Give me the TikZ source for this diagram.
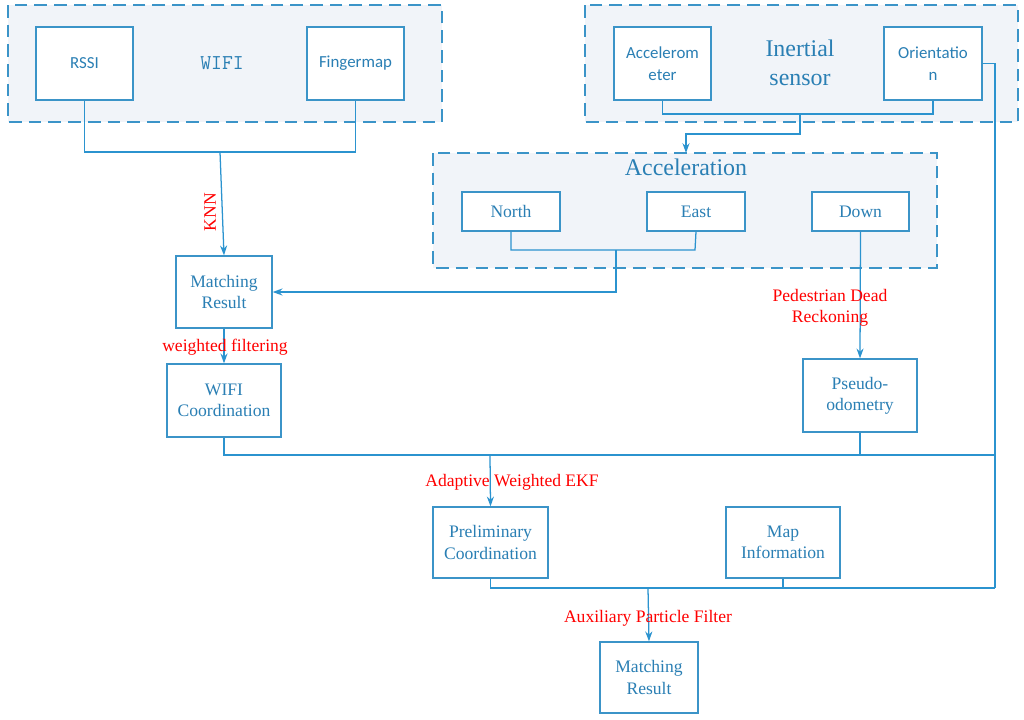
\documentclass[tikz,border=0pt]{standalone}
\usepackage{fontspec}
\setmainfont{Liberation Serif}
\newfontfamily\calib{Carlito}
\usetikzlibrary{arrows.meta}
\definecolor{lineblue}{HTML}{2B93CF}
\definecolor{boxblue}{HTML}{3B94C8}
\definecolor{txtblue}{HTML}{2A7FB4}
\definecolor{groupfill}{HTML}{F1F4F9}
\begin{document}
\begin{tikzpicture}[x=0.025cm, y=-0.025cm, line width=0.9pt,
    box/.style={draw=boxblue, fill=white, text=txtblue, align=center, inner sep=0pt, font=\fontsize{12.5}{15}\selectfont},
    sbox/.style={box, font=\calib\fontsize{12}{16}\selectfont, minimum width=2.425cm, minimum height=1.825cm},
    group/.style={draw=boxblue, dashed, dash pattern=on 9pt off 5pt, fill=groupfill},
    conn/.style={draw=lineblue},
    arr/.style={draw=lineblue, -{Stealth[length=7pt, width=5pt]}},
    note/.style={text=red, font=\fontsize{12.5}{15}\selectfont, inner sep=1pt},
  ]
    \useasboundingbox (0,0) rectangle (1024,719);

    % groups
    \draw[group] (8,5) rectangle (442,122);
    \draw[group] (585,5) rectangle (1018,122);
    \draw[group] (433,153) rectangle (937,268);

    % wifi
    \node[sbox] (rssi) at (84.5,63.5) {RSSI};
    \node[text=txtblue, font=\ttfamily\fontsize{15}{17}\selectfont] (wifi) at (222,63) {WIFI};
    \node[sbox] (finger) at (355.5,63.5) {Fingermap};

    % inertial
    \node[sbox] (acc) at (662.5,63.5) {Accelerom\\eter};
    \node[text=txtblue, align=center, font=\fontsize{17}{21}\selectfont] (inert) at (800,63) {Inertial\\sensor};
    \node[sbox, minimum width=2.45cm] (orient) at (933,63.5) {Orientatio\\n};

    % acceleration
    \node[text=txtblue, font=\fontsize{17}{20}\selectfont] (accel) at (686,167) {Acceleration};
    \node[box, minimum width=2.45cm, minimum height=0.975cm] (north) at (511,211.5) {North};
    \node[box, minimum width=2.45cm, minimum height=0.975cm] (east) at (696,211.5) {East};
    \node[box, minimum width=2.425cm, minimum height=0.975cm] (down) at (860.5,211.5) {Down};

    % processing
    \node[box, minimum width=2.4cm, minimum height=1.8cm] (match) at (224,292) {Matching\\Result};
    \node[box, minimum width=2.85cm, minimum height=1.825cm] (wcoord) at (224,400.5) {WIFI\\Coordination};
    \node[box, minimum width=2.85cm, minimum height=1.825cm] (pseudo) at (860,395.5) {Pseudo-\\odometry};
    \node[box, minimum width=2.875cm, minimum height=1.775cm] (prelim) at (490.5,542.5) {Preliminary\\Coordination};
    \node[box, minimum width=2.85cm, minimum height=1.775cm] (map) at (783,542.5) {Map\\Information};
    \node[box, minimum width=2.45cm, minimum height=1.775cm] (final) at (649,677.5) {Matching\\Result};

    % wifi to matching
    \coordinate (wj) at (220,152);
    \draw[conn] (rssi.south) |- (wj) -| (finger.south);
    \draw[arr] (wj) -- (match.north);
    \node[note, rotate=90] at (210,212) {KNN};

    % inertial to acceleration
    \coordinate (ij) at (800,114);
    \draw[conn] (acc.south) |- (ij) -| (orient.south);
    \draw[arr] (ij) -- (800,134) -| (accel.north |- 0,153);
    \draw[conn] (north.south) |- (695,250) -- (east.south);
    \draw[arr] (616,250) |- (match.east);

    \draw[arr] (down.south) -- (pseudo.north);
    \node[note, align=center] at (830,308) {Pedestrian Dead\\Reckoning};

    \draw[arr] (match.south) -- (wcoord.north);
    \node[note] at (225,347) {weighted filtering};

    % fusion
    \draw[conn] (wcoord.south) |- (995,455);
    \draw[conn] (pseudo.south) -- (860,455);
    \draw[conn] (orient.east) -| (995,588);
    \draw[arr] (490,455) -- (prelim.north);
    \node[note] at (512,482) {Adaptive Weighted EKF};

    \draw[conn] (prelim.south) |- (995,588);
    \draw[conn] (map.south) -- (783,588);
    \draw[arr] (648,588) -- (final.north);
    \node[note] at (648,618) {Auxiliary Particle Filter};
\end{tikzpicture}
\end{document}
